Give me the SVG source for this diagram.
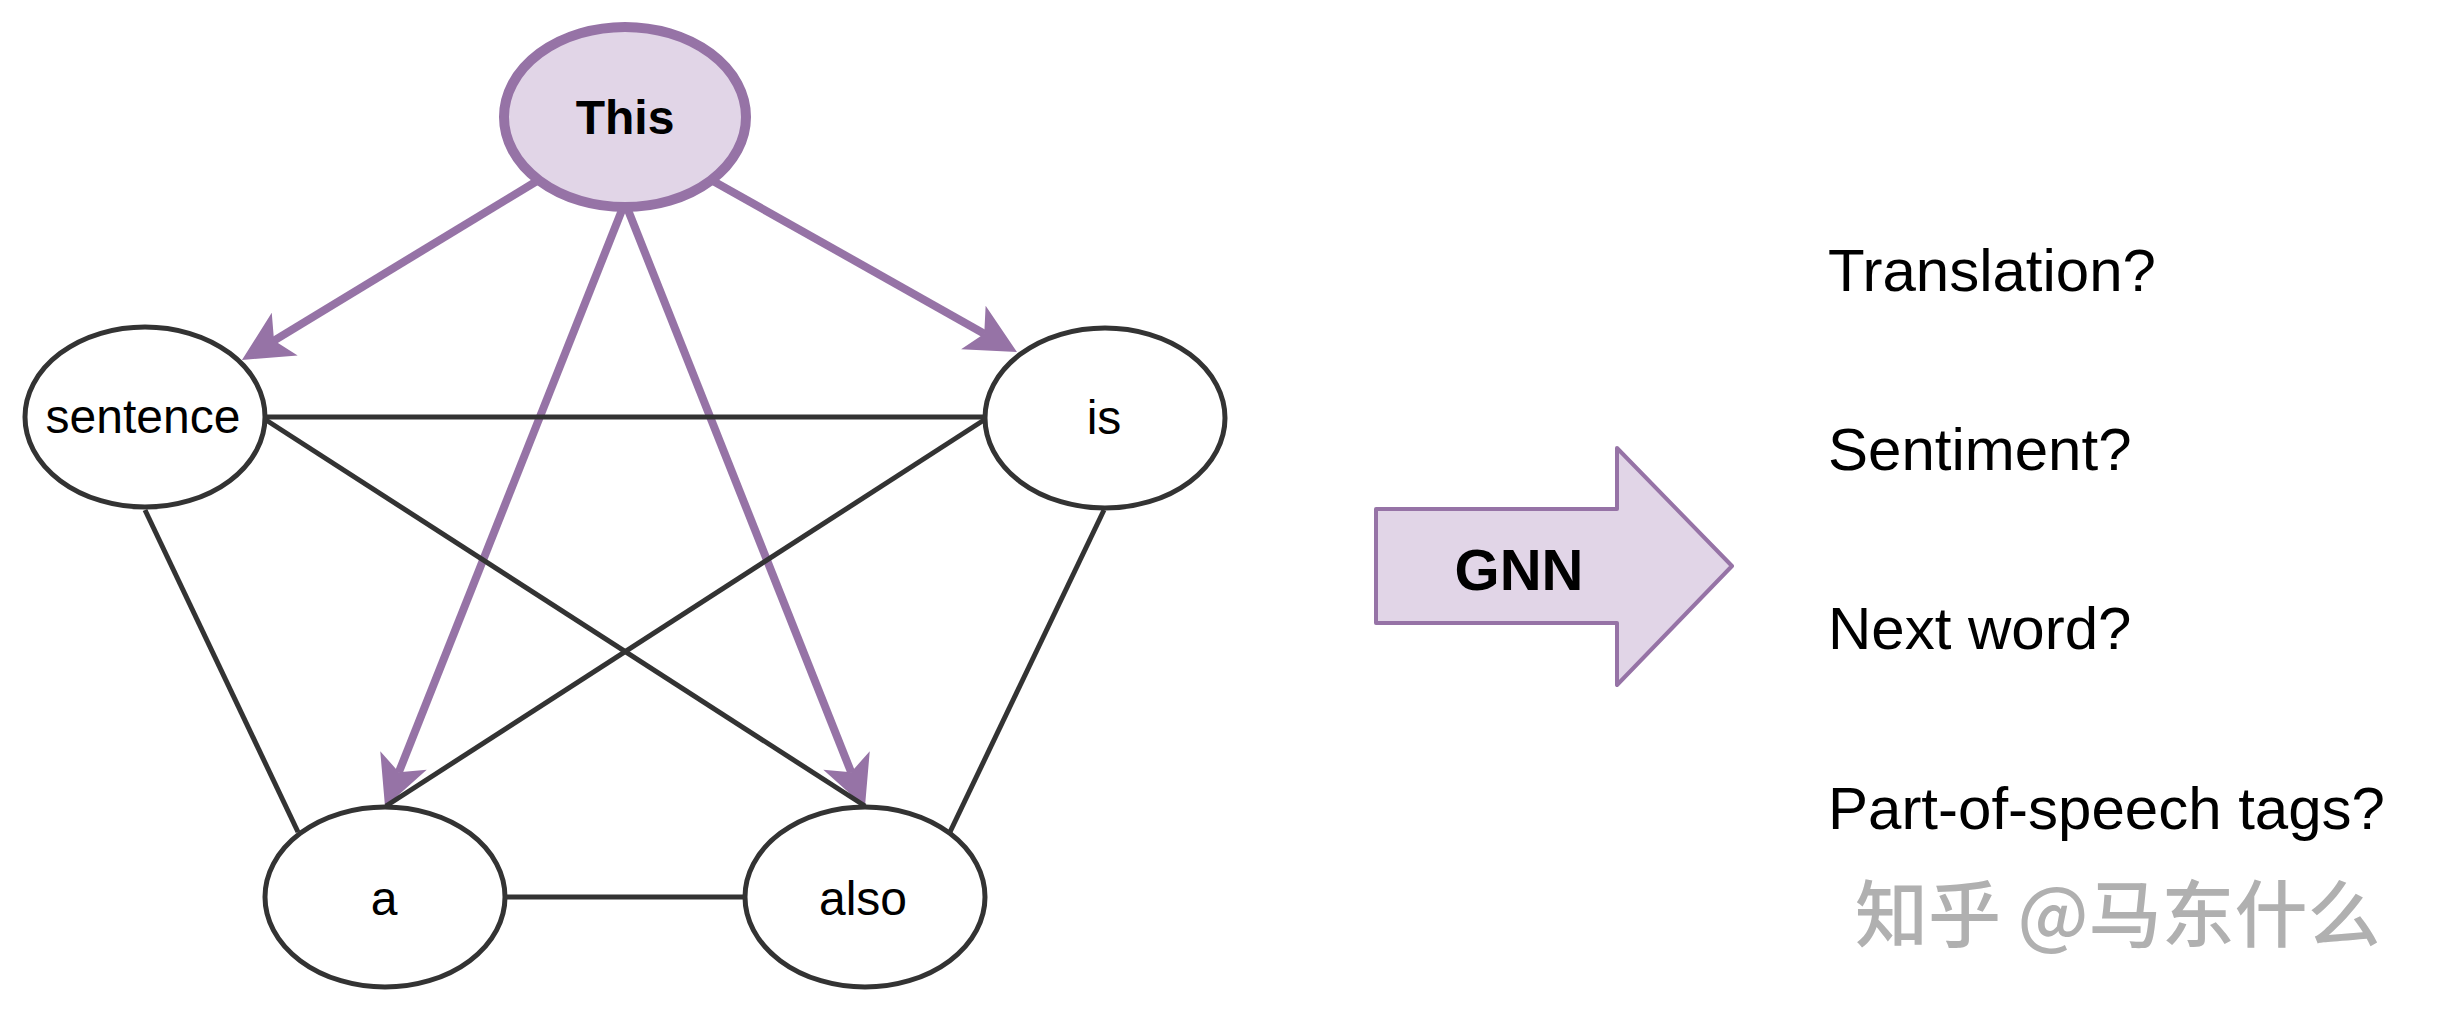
<svg xmlns="http://www.w3.org/2000/svg" width="2446" height="1012" viewBox="0 0 2446 1012">
  <style>
    .node { fill: #ffffff; stroke: #333333; stroke-width: 5; }
    .hub { fill: #e1d5e7; stroke: #9673a6; stroke-width: 10; }
    .edge { stroke: #333333; stroke-width: 5; fill: none; }
    .dir { stroke: #9673a6; stroke-width: 8; fill: none; marker-end: url(#arr); }
    .lbl { font-family: "Liberation Sans", Arial, sans-serif; font-size: 48px; fill: #000; text-anchor: middle; }
    .bold { font-weight: bold; }
    .task { font-family: "Liberation Sans", Arial, sans-serif; font-size: 60px; fill: #000; }
    .wm { font-family: "Noto Sans CJK SC", "Liberation Sans", sans-serif; font-size: 73px; font-weight: 500; fill: #b0b0b0; }
  </style>
  <defs>
    <marker id="arr" markerUnits="userSpaceOnUse" markerWidth="52" markerHeight="52" viewBox="0 -26 52 52" refX="13" refY="0" orient="auto" overflow="visible">
      <path d="M50,0 L0,-25 L12.5,0 L0,25 Z" fill="#9673a6" stroke="none"/>
    </marker>
  </defs>
  <rect x="0" y="0" width="2446" height="1012" fill="#ffffff"/>

  <g id="connectors">
    <line class="dir" x1="537" y1="181" x2="273.6" y2="340.8"/>
    <line class="dir" x1="713" y1="181" x2="984.7" y2="333.9"/>
    <line class="dir" x1="622" y1="210" x2="398.7" y2="772.6"/>
    <line class="dir" x1="628" y1="210" x2="851.3" y2="772.6"/>
    <line class="edge" x1="265" y1="417" x2="985" y2="417"/>
    <line class="edge" x1="266" y1="420" x2="865" y2="806"/>
    <line class="edge" x1="984" y1="420" x2="386" y2="806"/>
    <line class="edge" x1="145" y1="510" x2="298" y2="832"/>
    <line class="edge" x1="1104" y1="510" x2="950" y2="832"/>
    <line class="edge" x1="505" y1="897" x2="745" y2="897"/>
  </g>

  <g id="node-this">
    <ellipse class="hub" cx="625" cy="117" rx="121" ry="90"/>
    <text class="lbl bold" x="625" y="134">This</text>
  </g>
  <g id="node-sentence">
    <ellipse class="node" cx="145" cy="417" rx="120" ry="90"/>
    <text class="lbl" x="143" y="433">sentence</text>
  </g>
  <g id="node-is">
    <ellipse class="node" cx="1105" cy="418" rx="120" ry="90"/>
    <text class="lbl" x="1104" y="434">is</text>
  </g>
  <g id="node-a">
    <ellipse class="node" cx="385" cy="897" rx="120" ry="90"/>
    <text class="lbl" x="384" y="915">a</text>
  </g>
  <g id="node-also">
    <ellipse class="node" cx="865" cy="897" rx="120" ry="90"/>
    <text class="lbl" x="863" y="915">also</text>
  </g>

  <g id="gnn-arrow">
    <path d="M1376,509 L1617,509 L1617,448 L1732,566 L1617,685 L1617,623 L1376,623 Z" fill="#e1d5e7" stroke="#9673a6" stroke-width="4" stroke-linejoin="round"/>
    <text class="lbl bold" x="1519" y="590" style="font-size:58px">GNN</text>
  </g>

  <g id="tasks">
    <text class="task" x="1828" y="291">Translation?</text>
    <text class="task" x="1828" y="470">Sentiment?</text>
    <text class="task" x="1828" y="649">Next word?</text>
    <text class="task" x="1828" y="829">Part-of-speech tags?</text>
  </g>

  <text class="wm" x="1855" y="941">知乎 @马东什么</text>
</svg>
